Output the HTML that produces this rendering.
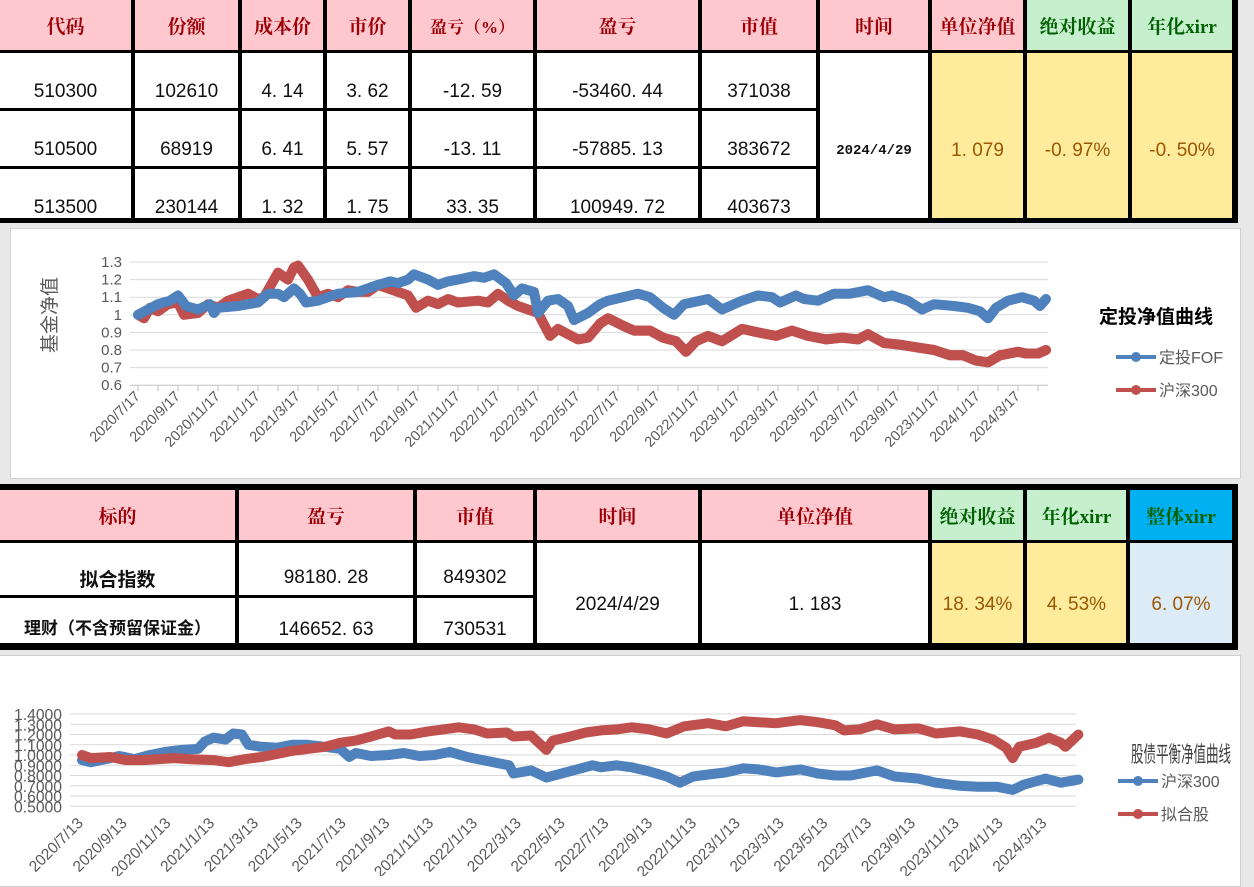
<!DOCTYPE html>
<html><head><meta charset="utf-8">
<style>
body{margin:0;width:1254px;height:876px;background:#e8e8e8;position:relative;overflow:hidden;font-family:"Liberation Sans","Noto Sans CJK SC",sans-serif;}
.blk{position:absolute;background:#000;}
.c{position:absolute;display:flex;align-items:center;justify-content:center;font-size:19px;color:#111;font-family:"Liberation Sans","Noto Sans CJK SC",sans-serif;}
.h{background:#ffc7ce;color:#9c0006;font-family:"Liberation Serif","Noto Serif CJK SC",serif;font-weight:bold;font-size:19px;}
.hg{background:#c6efce;color:#006100;font-family:"Liberation Serif","Noto Serif CJK SC",serif;font-weight:bold;font-size:19px;}
.hb{background:#00b0f0;color:#006100;font-family:"Liberation Serif","Noto Serif CJK SC",serif;font-weight:bold;font-size:19px;}
.w{background:#fff;}
.y{background:#ffeb9c;color:#9c5700;}
.lb{background:#ddebf7;color:#9c5700;}
.box{position:absolute;background:#fff;border:1px solid #d0d0d0;}
</style></head><body>

<!-- top table -->
<div class="blk" style="left:0;top:0;width:1238px;height:223px;"></div>
<div class="c h" style="left:0;top:0;width:131px;height:50px;">代码</div>
<div class="c h" style="left:135px;top:0;width:103px;height:50px;">份额</div>
<div class="c h" style="left:242px;top:0;width:81px;height:50px;">成本价</div>
<div class="c h" style="left:327px;top:0;width:81px;height:50px;">市价</div>
<div class="c h" style="left:412px;top:0;width:121px;height:50px;font-size:17px;">盈亏（%）</div>
<div class="c h" style="left:537px;top:0;width:161px;height:50px;">盈亏</div>
<div class="c h" style="left:702px;top:0;width:114px;height:50px;">市值</div>
<div class="c h" style="left:820px;top:0;width:108px;height:50px;">时间</div>
<div class="c h" style="left:932px;top:0;width:91px;height:50px;">单位净值</div>
<div class="c hg" style="left:1027px;top:0;width:101px;height:50px;">绝对收益</div>
<div class="c hg" style="left:1132px;top:0;width:100px;height:50px;">年化xirr</div>

<div class="c w" style="left:0;top:53px;width:131px;height:55px;padding-top:22px;box-sizing:border-box;">510300</div>
<div class="c w" style="left:135px;top:53px;width:103px;height:55px;padding-top:22px;box-sizing:border-box;">102610</div>
<div class="c w" style="left:242px;top:53px;width:81px;height:55px;padding-top:22px;box-sizing:border-box;">4. 14</div>
<div class="c w" style="left:327px;top:53px;width:81px;height:55px;padding-top:22px;box-sizing:border-box;">3. 62</div>
<div class="c w" style="left:412px;top:53px;width:121px;height:55px;padding-top:22px;box-sizing:border-box;">-12. 59</div>
<div class="c w" style="left:537px;top:53px;width:161px;height:55px;padding-top:22px;box-sizing:border-box;">-53460. 44</div>
<div class="c w" style="left:702px;top:53px;width:114px;height:55px;padding-top:22px;box-sizing:border-box;">371038</div>

<div class="c w" style="left:0;top:111px;width:131px;height:55px;padding-top:22px;box-sizing:border-box;">510500</div>
<div class="c w" style="left:135px;top:111px;width:103px;height:55px;padding-top:22px;box-sizing:border-box;">68919</div>
<div class="c w" style="left:242px;top:111px;width:81px;height:55px;padding-top:22px;box-sizing:border-box;">6. 41</div>
<div class="c w" style="left:327px;top:111px;width:81px;height:55px;padding-top:22px;box-sizing:border-box;">5. 57</div>
<div class="c w" style="left:412px;top:111px;width:121px;height:55px;padding-top:22px;box-sizing:border-box;">-13. 11</div>
<div class="c w" style="left:537px;top:111px;width:161px;height:55px;padding-top:22px;box-sizing:border-box;">-57885. 13</div>
<div class="c w" style="left:702px;top:111px;width:114px;height:55px;padding-top:22px;box-sizing:border-box;">383672</div>

<div class="c w" style="left:0;top:169px;width:131px;height:49px;padding-top:28px;box-sizing:border-box;">513500</div>
<div class="c w" style="left:135px;top:169px;width:103px;height:49px;padding-top:28px;box-sizing:border-box;">230144</div>
<div class="c w" style="left:242px;top:169px;width:81px;height:49px;padding-top:28px;box-sizing:border-box;">1. 32</div>
<div class="c w" style="left:327px;top:169px;width:81px;height:49px;padding-top:28px;box-sizing:border-box;">1. 75</div>
<div class="c w" style="left:412px;top:169px;width:121px;height:49px;padding-top:28px;box-sizing:border-box;">33. 35</div>
<div class="c w" style="left:537px;top:169px;width:161px;height:49px;padding-top:28px;box-sizing:border-box;">100949. 72</div>
<div class="c w" style="left:702px;top:169px;width:114px;height:49px;padding-top:28px;box-sizing:border-box;">403673</div>

<div class="c w" style="left:820px;top:53px;width:108px;height:165px;padding-top:30px;box-sizing:border-box;font-size:14px;font-weight:bold;font-family:'Liberation Mono',monospace;">2024/4/29</div>
<div class="c y" style="left:932px;top:53px;width:91px;height:165px;padding-top:30px;box-sizing:border-box;">1. 079</div>
<div class="c y" style="left:1027px;top:53px;width:101px;height:165px;padding-top:30px;box-sizing:border-box;">-0. 97%</div>
<div class="c y" style="left:1132px;top:53px;width:100px;height:165px;padding-top:30px;box-sizing:border-box;">-0. 50%</div>

<!-- chart 1 box -->
<div class="box" style="left:10px;top:228px;width:1229px;height:249px;"></div>

<!-- bottom table -->
<div class="blk" style="left:0;top:484px;width:1238px;height:166px;"></div>
<div class="c h" style="left:0;top:490px;width:235px;height:50px;">标的</div>
<div class="c h" style="left:239px;top:490px;width:174px;height:50px;">盈亏</div>
<div class="c h" style="left:417px;top:490px;width:116px;height:50px;">市值</div>
<div class="c h" style="left:537px;top:490px;width:161px;height:50px;">时间</div>
<div class="c h" style="left:702px;top:490px;width:226px;height:50px;">单位净值</div>
<div class="c hg" style="left:932px;top:490px;width:91px;height:50px;">绝对收益</div>
<div class="c hg" style="left:1027px;top:490px;width:99px;height:50px;">年化xirr</div>
<div class="c hb" style="left:1130px;top:490px;width:102px;height:50px;">整体xirr</div>

<div class="c w" style="left:0;top:543px;width:235px;height:52px;padding-top:18px;box-sizing:border-box;font-weight:bold;">拟合指数</div>
<div class="c w" style="left:239px;top:543px;width:174px;height:52px;padding-top:18px;box-sizing:border-box;">98180. 28</div>
<div class="c w" style="left:417px;top:543px;width:116px;height:52px;padding-top:18px;box-sizing:border-box;">849302</div>
<div class="c w" style="left:0;top:598px;width:235px;height:45px;padding-top:12px;box-sizing:border-box;font-weight:bold;font-size:17px;">理财（不含预留保证金）</div>
<div class="c w" style="left:239px;top:598px;width:174px;height:45px;padding-top:18px;box-sizing:border-box;">146652. 63</div>
<div class="c w" style="left:417px;top:598px;width:116px;height:45px;padding-top:18px;box-sizing:border-box;">730531</div>
<div class="c w" style="left:537px;top:543px;width:161px;height:100px;padding-top:24px;box-sizing:border-box;">2024/4/29</div>
<div class="c w" style="left:702px;top:543px;width:226px;height:100px;padding-top:24px;box-sizing:border-box;">1. 183</div>
<div class="c y" style="left:932px;top:543px;width:91px;height:100px;padding-top:24px;box-sizing:border-box;">18. 34%</div>
<div class="c y" style="left:1027px;top:543px;width:99px;height:100px;padding-top:24px;box-sizing:border-box;">4. 53%</div>
<div class="c lb" style="left:1130px;top:543px;width:102px;height:100px;padding-top:24px;box-sizing:border-box;">6. 07%</div>

<!-- chart 2 box -->
<div class="box" style="left:0;top:655px;width:1240px;height:230px;border-left:none;"></div>

<svg id="svg" width="1254" height="876" style="position:absolute;left:0;top:0;" xmlns="http://www.w3.org/2000/svg"></svg>

<script>
// ---- Chart 1 data (months since 2020/7/17) ----
const c1TickLabels = ["2020/7/17","2020/9/17","2020/11/17","2021/1/17","2021/3/17","2021/5/17","2021/7/17","2021/9/17","2021/11/17","2022/1/17","2022/3/17","2022/5/17","2022/7/17","2022/9/17","2022/11/17","2023/1/17","2023/3/17","2023/5/17","2023/7/17","2023/9/17","2023/11/17","2024/1/17","2024/3/17"];
const c1YTicks = [0.6,0.7,0.8,0.9,1,1.1,1.2,1.3];
const c1FofMonths = [0,1,1.6,2,2.4,3,3.6,3.8,4,5,5.5,6,6.5,7,7.3,7.6,7.8,8.1,8.4,9,9.5,10,11,12,12.6,13,13.5,13.8,14.5,15,15.5,16,16.8,17.3,17.8,18.4,18.8,19.2,19.8,20,20.5,21,21.5,21.8,22.5,23.1,23.5,25,25.6,26.25,26.8,27.3,28.1,28.5,29.2,30.2,31,31.7,32.1,32.9,33.3,34,34.8,35.6,36.5,37.3,37.7,38.5,39.2,39.8,40.8,41.5,42.1,42.5,42.9,43.5,44.2,44.8,45.1,45.4];
const c1FofValues = [1.0,1.06,1.08,1.11,1.05,1.03,1.06,1.01,1.04,1.05,1.06,1.07,1.12,1.12,1.1,1.13,1.15,1.12,1.07,1.08,1.1,1.12,1.13,1.17,1.19,1.18,1.2,1.23,1.2,1.17,1.19,1.2,1.22,1.21,1.23,1.18,1.11,1.15,1.13,1.01,1.08,1.09,1.05,0.97,1.01,1.06,1.08,1.12,1.1,1.04,1.0,1.06,1.08,1.09,1.03,1.08,1.11,1.1,1.07,1.11,1.09,1.08,1.12,1.12,1.14,1.1,1.11,1.08,1.03,1.06,1.05,1.04,1.02,0.98,1.04,1.08,1.1,1.08,1.05,1.09];
const c1HsMonths = [0,0.3,0.6,1,1.5,2,2.3,3,3.5,4,4.5,5,5.5,6,6.3,6.8,7,7.5,7.8,8,8.5,9,9.5,10,10.5,11,11.5,12,12.5,13,13.5,13.9,14.5,15,15.5,16,17,17.5,18,18.5,19,19.5,20,20.6,21,21.5,22,22.5,23.1,23.5,24.4,24.8,25.6,26.25,26.9,27.4,27.9,28.5,29.2,30.2,31,31.9,32.7,33.5,34.4,35.2,36,36.5,37.3,38.1,39.2,39.8,40.6,41.25,41.9,42.5,43.1,44,44.4,45,45.4];
const c1HsValues = [1.0,0.98,1.04,1.02,1.06,1.07,1.0,1.01,1.06,1.04,1.08,1.1,1.12,1.09,1.1,1.2,1.24,1.2,1.27,1.28,1.2,1.1,1.12,1.1,1.14,1.13,1.13,1.17,1.15,1.13,1.11,1.04,1.08,1.06,1.09,1.07,1.08,1.07,1.12,1.08,1.05,1.03,1.01,0.88,0.92,0.89,0.86,0.87,0.95,0.98,0.93,0.91,0.91,0.87,0.85,0.79,0.85,0.88,0.85,0.92,0.9,0.88,0.91,0.88,0.86,0.87,0.86,0.89,0.84,0.83,0.81,0.8,0.77,0.77,0.74,0.73,0.77,0.79,0.78,0.78,0.8];

// ---- Chart 2 data (months since 2020/7/13) ----
const c2TickLabels = ["2020/7/13","2020/9/13","2020/11/13","2021/1/13","2021/3/13","2021/5/13","2021/7/13","2021/9/13","2021/11/13","2022/1/13","2022/3/13","2022/5/13","2022/7/13","2022/9/13","2022/11/13","2023/1/13","2023/3/13","2023/5/13","2023/7/13","2023/9/13","2023/11/13","2024/1/13","2024/3/13"];
const c2YTicks = [0.5,0.6,0.7,0.8,0.9,1.0,1.1,1.2,1.3,1.4];
const c2HsMonths = [0,0.4,1.3,1.7,2.4,3.1,3.8,4.6,5.3,5.6,6.0,6.55,6.9,7.3,7.6,8.2,8.9,9.6,10.3,11.1,11.8,12.2,12.5,13.2,14.0,14.7,15.4,16.1,16.8,17.6,18.3,19.0,19.5,19.7,20.5,21.2,21.9,22.6,23.3,23.7,24.4,25.1,25.9,26.7,27.3,27.9,28.6,29.4,30.2,30.9,31.7,32.8,33.6,34.4,35.1,36.3,37.1,38.2,39.0,40.1,40.9,41.8,42.5,43.0,44.0,44.7,45.5];
const c2HsValues = [0.95,0.93,0.97,0.99,0.96,1.0,1.03,1.05,1.06,1.13,1.17,1.15,1.21,1.2,1.1,1.08,1.07,1.1,1.1,1.08,1.06,0.98,1.02,0.99,1.0,1.02,0.99,1.0,1.03,0.98,0.95,0.92,0.9,0.82,0.85,0.78,0.82,0.86,0.9,0.88,0.9,0.88,0.84,0.79,0.73,0.79,0.81,0.83,0.87,0.86,0.83,0.86,0.82,0.8,0.8,0.85,0.79,0.77,0.73,0.7,0.69,0.69,0.66,0.71,0.77,0.73,0.76];
const c2FitMonths = [0,0.4,1.3,2.0,2.8,3.5,4.2,4.9,6.0,6.7,7.45,8.2,8.9,9.6,10.3,11.1,11.8,12.5,13.2,14.0,14.3,15.0,15.8,16.5,17.2,17.9,18.5,19.4,19.7,20.5,21.2,21.5,22.3,23.0,23.7,24.4,25.1,25.9,26.7,27.5,28.6,29.4,30.2,30.9,31.7,32.8,33.6,34.4,34.8,35.5,36.3,37.1,38.2,39.0,40.1,40.9,41.6,42.2,42.5,42.8,43.6,44.15,44.7,44.9,45.5];
const c2FitValues = [1.0,0.97,0.98,0.95,0.95,0.96,0.97,0.96,0.95,0.93,0.96,0.98,1.01,1.04,1.06,1.08,1.12,1.14,1.18,1.23,1.2,1.2,1.23,1.25,1.27,1.25,1.21,1.22,1.18,1.19,1.05,1.14,1.18,1.22,1.24,1.25,1.27,1.25,1.21,1.28,1.31,1.28,1.33,1.32,1.31,1.34,1.32,1.29,1.24,1.25,1.3,1.25,1.26,1.21,1.23,1.2,1.15,1.07,0.97,1.08,1.12,1.17,1.12,1.08,1.2];

const NS = "http://www.w3.org/2000/svg";
const svg = document.getElementById("svg");
function mk(tag, attrs, parent) {
  const e = document.createElementNS(NS, tag);
  for (const k in attrs) e.setAttribute(k, attrs[k]);
  (parent || svg).appendChild(e);
  return e;
}

const x1 = m => 138 + 20 * m;
const y1 = v => 262 + (1.3 - v) * 176;
const x2 = m => 82 + 21.9 * m;
const y2 = v => 714 + (1.4 - v) * 102.5;

// ---- chart 1 ----
c1YTicks.forEach(v => {
  const ln = mk("line", {x1: 130, x2: 1048, y1: y1(v), y2: y1(v), stroke: v === 0.6 ? "#bfbfbf" : "#d9d9d9", "stroke-width": 1});
  
  
  const t = mk("text", {x: 122, y: y1(v) + 5, "text-anchor": "end", "font-size": 15, fill: "#595959", "font-family": "Liberation Sans, sans-serif"});
  t.textContent = String(v);
  
  
});
for (let m = 0; m <= 45; m++) {
  const tk = mk("line", {x1: x1(m), x2: x1(m), y1: y1(0.6), y2: y1(0.6) + 6, stroke: "#bfbfbf"});
  
  
}
c1TickLabels.forEach((lab, i) => {
  const px = x1(i * 2) + 3, py = y1(0.6) + 12;
  const t = mk("text", {x: px, y: py, "text-anchor": "end", "font-size": 14.5, fill: "#595959", transform: `rotate(-45 ${px} ${py})`, "font-family": "Liberation Sans, sans-serif"});
  t.textContent = lab;
  
  
});
const yt = mk("text", {x: 56, y: 315, "text-anchor": "middle", "font-size": 19, fill: "#595959", transform: "rotate(-90 56 315)", "font-family": "Noto Sans CJK SC, sans-serif"});
yt.textContent = "基金净值";



function series(xs, ys, xf, yf, color, name, w) {
  const pts = xs.map((m, i) => xf(m).toFixed(1) + "," + yf(ys[i]).toFixed(1)).join(" ");
  const p = mk("polyline", {points: pts, fill: "none", stroke: color, "stroke-width": w, "stroke-linejoin": "round", "stroke-linecap": "round"});
  
  
}
series(c1HsMonths, c1HsValues, x1, y1, "#c0504d", "line-hs300", 10);
series(c1FofMonths, c1FofValues, x1, y1, "#4f81bd", "line-fof", 10);
series(c1HsMonths.filter(m => m > 23), c1HsValues.filter((v, i) => c1HsMonths[i] > 23), x1, y1, "#c0504d", "line-hs300-late", 10);

const lt1 = mk("text", {x: 1099, y: 323, "font-size": 19, "font-weight": "bold", fill: "#000", "font-family": "Noto Sans CJK SC, sans-serif"});
lt1.textContent = "定投净值曲线";


function legend(yy, color, label, x0, name) {
  const l = mk("line", {x1: x0, x2: x0 + 40, y1: yy, y2: yy, stroke: color, "stroke-width": 4});
  
  
  const c = mk("circle", {cx: x0 + 20, cy: yy, r: 5, fill: color});
  
  
  const t = mk("text", {x: x0 + 43, y: yy + 6, "font-size": 16, fill: "#595959", "font-family": "Liberation Sans, Noto Sans CJK SC, sans-serif"});
  t.textContent = label;
  
  
}
legend(357, "#4f81bd", "定投FOF", 1116, "legend-entry-fof");
legend(390, "#c0504d", "沪深300", 1116, "legend-entry-hs300");

// ---- chart 2 ----
c2YTicks.forEach(v => {
  const ln = mk("line", {x1: 70, x2: 1076, y1: y2(v), y2: y2(v), stroke: "#d9d9d9"});
  
  
  const t = mk("text", {x: 62, y: y2(v) + 6, "text-anchor": "end", "font-size": 16, fill: "#595959", "font-family": "Liberation Sans, sans-serif", textLength: 48, lengthAdjust: "spacingAndGlyphs"});
  t.textContent = v.toFixed(4);
  
  
});
c2TickLabels.forEach((lab, i) => {
  const px = x2(i * 2) + 2, py = 824;
  const t = mk("text", {x: px, y: py, "text-anchor": "end", "font-size": 15.5, fill: "#595959", transform: `rotate(-45 ${px} ${py})`, "font-family": "Liberation Sans, sans-serif"});
  t.textContent = lab;
  
  
});
series(c2HsMonths, c2HsValues, x2, y2, "#4f81bd", "line-hs300-balance", 10);
series(c2FitMonths, c2FitValues, x2, y2, "#c0504d", "line-fitted-stock", 10);

const lt2 = mk("text", {x: 1131, y: 762, "font-size": 22, fill: "#404040", "font-family": "Noto Sans CJK SC, sans-serif", textLength: 100, lengthAdjust: "spacingAndGlyphs"});
lt2.textContent = "股债平衡净值曲线";


legend(781, "#4f81bd", "沪深300", 1118, "legend-entry-hs300-2");
legend(814, "#c0504d", "拟合股", 1118, "legend-entry-fitted");
</script>
</body></html>
